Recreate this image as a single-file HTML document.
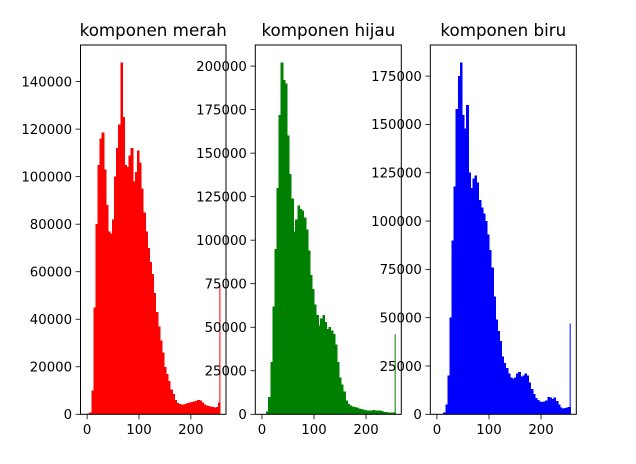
<!DOCTYPE html>
<html><head><meta charset="utf-8">
<style>
html,body{margin:0;padding:0;background:#fff;}
svg{display:block;font-family:"DejaVu Sans","Liberation Sans",sans-serif;}
</style></head>
<body>
<svg id="fig" width="636" height="464" viewBox="0 0 636 464" xmlns="http://www.w3.org/2000/svg"></svg>
<script>
// bin starts (width 4) shared by all channels
const binStarts = [0,4,8,12,16,20,24,28,32,36,40,44,48,52,56,60,64,68,72,76,80,84,88,92,96,100,104,108,112,116,120,124,128,132,136,140,144,148,152,156,160,164,168,172,176,180,184,188,192,196,200,204,208,212,216,220,224,228,232,236,240,244,248,252];
const redValues = [300,800,10000,45000,80000,105000,116000,118500,103000,88000,77000,76000,82000,100000,112000,122000,148000,125000,105000,104000,109000,112000,98000,102000,111000,106000,95000,85000,77000,70000,64000,59000,51000,43000,37000,31000,26000,20000,17000,14000,10500,8500,6000,4800,4300,4200,4100,4300,4800,5000,5200,5400,5700,6000,5800,5000,4200,3800,3500,3200,3000,2900,3000,5000];
const greenValues = [0,200,1500,10000,30000,62000,95000,130000,172000,202000,192000,190000,160000,138000,124000,105000,112000,120000,118000,117000,113000,106000,94000,80000,72000,63000,57000,51000,55000,57000,53000,49000,50000,48000,46000,40000,30000,21000,17000,13000,8000,5800,5000,4600,4300,3800,3300,3000,2700,2400,2300,2200,2300,2400,2300,2200,2300,1800,1300,1200,1100,1000,1000,1000];
const blueValues = [0,0,100,1000,5000,20000,50000,90000,118000,158000,175000,182000,155000,148000,160000,125000,117000,122000,123500,120000,111000,107000,104000,100000,93000,85000,76000,61000,49000,43000,38000,30000,26500,24000,21000,19000,18500,19000,21000,22000,19500,20000,21000,20000,16500,13000,10500,8500,7500,6500,6400,6500,7200,9000,8700,8000,8800,7000,5000,3500,3000,3200,3600,3800];
// single-value spike bin at 255
const spikeBin = 255;
const redSpike = 54000;
const greenSpike = 46000;
const blueSpike = 47000;
const redTicks = [0,20000,40000,60000,80000,100000,120000,140000];
const greenTicks = [0,25000,50000,75000,100000,125000,150000,175000,200000];
const blueTicks = [0,25000,50000,75000,100000,125000,150000,175000];
const xTicks = [0,100,200];
const titles = ["komponen merah","komponen hijau","komponen biru"];

const NS = "http://www.w3.org/2000/svg";
const svgRoot = document.getElementById("fig");
function mk(tag, attrs, parent){
  const e = document.createElementNS(NS, tag);
  for (const k in attrs) e.setAttribute(k, attrs[k]);
  (parent||svgRoot).appendChild(e);
  return e;
}
const panels = [
  {left:80.5, right:226, vals:redValues, spike:redSpike, ticks:redTicks, color:"#ff0000", key:"red"},
  {left:255.3, right:401.3, vals:greenValues, spike:greenSpike, ticks:greenTicks, color:"#008000", key:"green"},
  {left:430.3, right:576.3, vals:blueValues, spike:blueSpike, ticks:blueTicks, color:"#0000ff", key:"blue"}
];
const plotTop = 45, plotBottom = 414.3;
panels.forEach((p, i) => {
  const g = mk("g", {});
  
  
  const xmin = -12.75, xmax = 267.75;
  const xs = v => p.left + (v - xmin) / (xmax - xmin) * (p.right - p.left);
  const ymax = Math.max(...p.vals, p.spike) * 1.05;
  const ys = v => plotBottom - v / ymax * (plotBottom - plotTop);
  p.vals.forEach((v, j) => {
    const x0 = xs(binStarts[j]), x1 = xs(binStarts[j] + 4);
    const r = mk("rect", {x:x0, y:ys(v), width:(x1 - x0) + 0.6, height:plotBottom - ys(v), fill:p.color, "shape-rendering":"crispEdges"}, g);
    
    
  });
  const sx0 = xs(spikeBin), sx1 = xs(spikeBin + 1);
  const sp = mk("rect", {x:sx0, y:ys(p.spike), width:Math.max(sx1 - sx0, 1), height:plotBottom - ys(p.spike), fill:p.color}, g);
  
  
  const fr = mk("rect", {x:p.left, y:plotTop, width:p.right - p.left, height:plotBottom - plotTop, fill:"none", stroke:"#000", "stroke-width":1}, g);
  
  
  p.ticks.forEach(t => {
    const y = ys(t);
    mk("line", {x1:p.left - 4.9, x2:p.left, y1:y, y2:y, stroke:"#000", "stroke-width":0.8}, g);
    const tx = mk("text", {x:p.left - 8.4, y:y + 4.8, "font-size":"13.3px", "text-anchor":"end", fill:"#000"}, g);
    tx.textContent = String(t);
    
    
  });
  xTicks.forEach(t => {
    const x = xs(t);
    mk("line", {x1:x, x2:x, y1:plotBottom, y2:plotBottom + 4.9, stroke:"#000", "stroke-width":0.8}, g);
    const tx = mk("text", {x:x, y:plotBottom + 19.5, "font-size":"13.3px", "text-anchor":"middle", fill:"#000"}, g);
    tx.textContent = String(t);
    
    
  });
  const tt = mk("text", {x:(p.left + p.right) / 2, y:36, "font-size":"16.7px", "text-anchor":"middle", fill:"#000"}, g);
  tt.textContent = titles[i];
  
  
});
</script>
</body></html>
